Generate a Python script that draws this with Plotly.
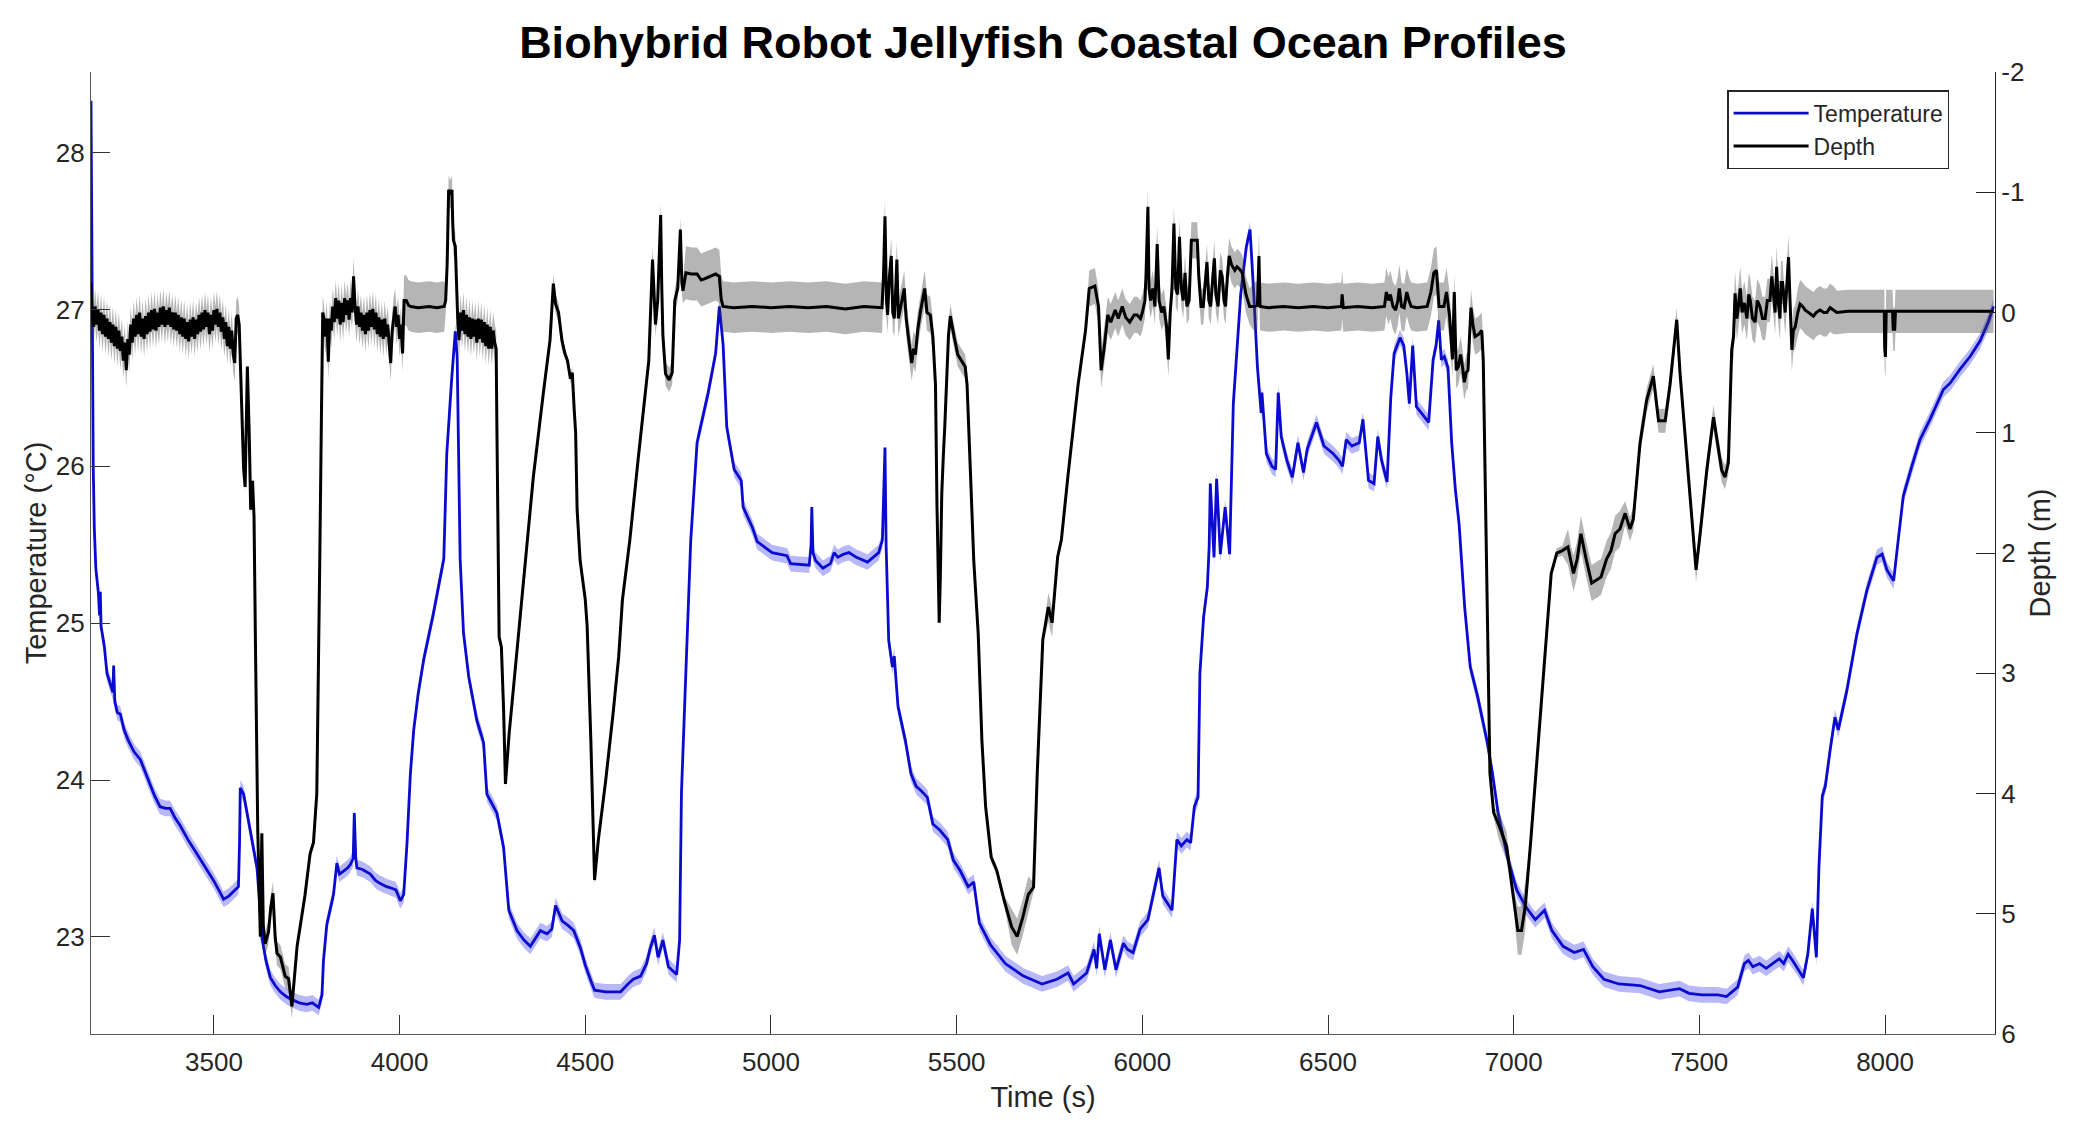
import plotly.graph_objects as go

# ---------------- data ----------------
temp_time = [3169, 3171, 3173, 3175, 3178, 3182, 3189, 3192, 3194, 3196, 3205, 3212, 3228, 3230, 3233, 3240,
             3248, 3258, 3270, 3285, 3302, 3320, 3340, 3355, 3370, 3382, 3395, 3409, 3430, 3454, 3475, 3499,
             3515, 3526, 3540, 3553, 3566, 3569, 3571, 3580, 3595, 3616, 3622, 3629, 3640, 3652, 3665, 3679,
             3695, 3710, 3730, 3750, 3765, 3782, 3791, 3795, 3804, 3815, 3822, 3831, 3838, 3849, 3860, 3867,
             3875, 3878, 3882, 3885, 3900, 3921, 3935, 3948, 3965, 3979, 3990, 4002, 4011, 4020, 4029, 4038,
             4050, 4065, 4090, 4119, 4127, 4140, 4150, 4155, 4163, 4172, 4186, 4208, 4226, 4235, 4250, 4262,
             4280, 4294, 4316, 4335, 4352, 4365, 4379, 4397, 4410, 4420, 4430, 4438, 4455, 4469, 4487, 4500,
             4515, 4525, 4555, 4595, 4615, 4629, 4649, 4665, 4674, 4686, 4696, 4709, 4724, 4746, 4754, 4759,
             4769, 4774, 4784, 4801, 4831, 4851, 4861, 4871, 4881, 4901, 4920, 4925, 4950, 4963, 4980, 5003,
             5043, 5053, 5103, 5108, 5110, 5113, 5120, 5140, 5160, 5170, 5180, 5195, 5210, 5230, 5260, 5290,
             5300, 5305, 5307, 5310, 5317, 5327, 5332, 5342, 5362, 5377, 5391, 5405, 5421, 5436, 5455, 5476,
             5491, 5510, 5531, 5546, 5561, 5591, 5631, 5680, 5730, 5770, 5800, 5815, 5850, 5870, 5877, 5884,
             5899, 5914, 5929, 5949, 5960, 5975, 5994, 6015, 6025, 6045, 6055, 6080, 6093, 6105, 6120, 6130,
             6140, 6150, 6155, 6165, 6175, 6180, 6183, 6193, 6200, 6210, 6223, 6235, 6245, 6265, 6280, 6290,
             6300, 6310, 6320, 6322, 6334, 6349, 6359, 6366, 6374, 6389, 6404, 6419, 6434, 6444, 6469, 6489,
             6514, 6529, 6539, 6549, 6564, 6584, 6594, 6609, 6624, 6634, 6644, 6659, 6669, 6678, 6694, 6704,
             6712, 6719, 6728, 6738, 6758, 6771, 6783, 6791, 6798, 6805, 6813, 6823, 6833, 6843, 6853, 6863,
             6868, 6883, 6903, 6928, 6943, 6958, 6983, 7008, 7033, 7058, 7083, 7103, 7133, 7163, 7188, 7213,
             7243, 7283, 7340, 7392, 7447, 7472, 7507, 7550, 7573, 7603, 7621, 7632, 7644, 7662, 7680, 7697,
             7715, 7727, 7739, 7751, 7768, 7780, 7792, 7804, 7815, 7822, 7831, 7839, 7852, 7865, 7874, 7897,
             7924, 7951, 7978, 7992, 8005, 8023, 8032, 8049, 8072, 8094, 8121, 8157, 8175, 8202, 8229, 8256,
             8278, 8292]
temp_val = [28.33, 27.30, 26.60, 26.00, 25.60, 25.35, 25.19, 25.05, 25.20, 24.98, 24.85, 24.68, 24.56, 24.73, 24.50, 24.43,
            24.42, 24.32, 24.25, 24.18, 24.13, 24.02, 23.90, 23.83, 23.82, 23.82, 23.76, 23.71, 23.62, 23.53, 23.45, 23.36,
            23.29, 23.24, 23.26, 23.29, 23.32, 23.60, 23.95, 23.91, 23.72, 23.44, 23.25, 23.00, 22.85, 22.74, 22.69, 22.65,
            22.62, 22.60, 22.58, 22.57, 22.58, 22.55, 22.63, 22.85, 23.08, 23.20, 23.27, 23.47, 23.40, 23.42, 23.44, 23.46,
            23.50, 23.79, 23.50, 23.44, 23.43, 23.40, 23.36, 23.34, 23.32, 23.31, 23.30, 23.23, 23.27, 23.60, 24.04, 24.32,
            24.55, 24.77, 25.05, 25.41, 26.08, 26.55, 26.86, 26.70, 25.41, 24.94, 24.66, 24.38, 24.24, 23.91, 23.84, 23.79,
            23.57, 23.17, 23.04, 22.98, 22.94, 22.99, 23.04, 23.02, 23.05, 23.20, 23.14, 23.10, 23.07, 23.04, 22.93, 22.82,
            22.72, 22.66, 22.65, 22.65, 22.70, 22.73, 22.75, 22.83, 22.92, 23.01, 22.87, 22.98, 22.81, 22.76, 22.98, 23.92,
            24.57, 24.89, 25.53, 26.15, 26.47, 26.72, 27.02, 26.78, 26.25, 25.98, 25.91, 25.74, 25.61, 25.52, 25.49, 25.45,
            25.43, 25.38, 25.37, 25.50, 25.74, 25.45, 25.40, 25.35, 25.38, 25.45, 25.42, 25.44, 25.45, 25.42, 25.39, 25.45,
            25.53, 26.00, 26.12, 25.50, 24.89, 24.72, 24.79, 24.47, 24.25, 24.04, 23.96, 23.93, 23.89, 23.72, 23.68, 23.62,
            23.49, 23.42, 23.32, 23.35, 23.09, 22.95, 22.83, 22.75, 22.70, 22.73, 22.77, 22.70, 22.77, 22.92, 22.80, 23.02,
            22.79, 22.98, 22.79, 22.96, 22.92, 22.90, 23.05, 23.11, 23.22, 23.44, 23.26, 23.17, 23.62, 23.58, 23.62, 23.60,
            23.83, 23.89, 24.68, 25.04, 25.23, 25.49, 25.89, 25.42, 25.92, 25.44, 25.74, 25.44, 26.40, 27.10, 27.40, 27.51,
            27.10, 26.63, 26.34, 26.47, 26.08, 26.00, 25.98, 26.47, 26.19, 26.04, 25.93, 26.15, 25.96, 26.11, 26.28, 26.13,
            26.08, 26.04, 26.00, 26.17, 26.13, 26.15, 26.30, 25.91, 25.89, 26.19, 26.04, 25.90, 26.44, 26.72, 26.82, 26.77,
            26.60, 26.40, 26.77, 26.38, 26.32, 26.28, 26.68, 26.77, 26.93, 26.68, 26.70, 26.63, 26.15, 25.85, 25.63, 25.30,
            25.10, 24.72, 24.53, 24.25, 24.04, 23.79, 23.51, 23.30, 23.19, 23.11, 23.17, 23.04, 22.94, 22.90, 22.92, 22.81,
            22.73, 22.70, 22.69, 22.65, 22.67, 22.64, 22.63, 22.63, 22.62, 22.68, 22.83, 22.85, 22.81, 22.83, 22.80, 22.83,
            22.86, 22.83, 22.89, 22.85, 22.79, 22.74, 22.89, 23.18, 22.87, 23.45, 23.90, 23.96, 24.19, 24.40, 24.32, 24.57,
            24.93, 25.21, 25.42, 25.44, 25.34, 25.27, 25.46, 25.81, 26.00, 26.17, 26.30, 26.49, 26.53, 26.62, 26.70, 26.80,
            26.92, 27.02]
temp_err = 0.05  # half-width of the temperature uncertainty band (deg C)

# depth: irregular samples read off the curve, plus three densely sampled
# surface-noise stretches (sampled every 4 s)
depth_a_time = [3168, 3170]
depth_a_val = [-0.25, 0.00]

surf1_start, surf1_step = 3172, 4
surf1_val = [0.00, 0.12, -0.05, 0.10, -0.02, 0.15, 0.00, 0.18, 0.02, 0.20, 0.05, 0.22, 0.08, 0.25, 0.10, 0.28,
             0.12, 0.30, 0.15, 0.32, 0.20, 0.40, 0.25, 0.48, 0.22, 0.35, 0.10, 0.25, 0.05, 0.20, 0.02, 0.18,
             0.00, 0.20, 0.05, 0.22, 0.03, 0.18, 0.00, 0.16, -0.02, 0.14, -0.03, 0.15, 0.00, 0.12, -0.04, 0.10,
             -0.05, 0.12, -0.02, 0.10, -0.04, 0.12, 0.00, 0.14, 0.00, 0.15, 0.02, 0.18, 0.04, 0.20, 0.05, 0.22,
             0.08, 0.24, 0.06, 0.20, 0.04, 0.22, 0.06, 0.18, 0.02, 0.16, 0.00, 0.14, -0.02, 0.12, 0.00, 0.18,
             0.02, 0.15, -0.02, 0.10, -0.03, 0.12, 0.00, 0.16, 0.04, 0.22, 0.08, 0.28, 0.12, 0.30, 0.15, 0.35,
             0.42, 0.05, 0.02]

depth_b_time = [3568, 3573, 3577, 3580, 3584, 3588, 3590, 3595, 3599, 3604, 3608, 3612, 3618, 3625, 3629,
                3633, 3638, 3647, 3653, 3659, 3665, 3670, 3679, 3692, 3701, 3710, 3724, 3745, 3759, 3768, 3777,
                3785, 3788, 3790, 3793]
depth_b_val = [0.10, 0.60, 0.95, 1.30, 1.45, 0.80, 0.45, 1.00, 1.64, 1.40, 1.70, 2.80, 4.30, 5.19, 4.33,
               5.10, 5.25, 5.15, 4.95, 4.83, 5.20, 5.33, 5.36, 5.52, 5.54, 5.77, 5.27, 4.85, 4.50, 4.41, 4.00,
               2.06, 1.00, 0.73, 0.00]

surf2_start, surf2_step = 3796, 4
surf2_val = [0.05, 0.20, 0.05, 0.41, 0.05, 0.15, -0.05, 0.08, -0.12, 0.05, -0.10, 0.10, -0.08, 0.08, -0.12, 0.02,
             -0.10, 0.06, -0.12, 0.00, -0.30, -0.05, 0.10, -0.05, 0.12, 0.00, 0.15, 0.02, 0.18, 0.00, 0.15, -0.02,
             0.12, -0.03, 0.14, 0.00, 0.18, 0.04, 0.20, 0.06, 0.22, 0.05, 0.20, 0.10, 0.30, 0.42, 0.15, 0.02,
             -0.05, 0.12, 0.02, 0.22, 0.10, 0.34]

depth_c_time = [4012, 4018, 4024, 4030, 4050, 4080, 4100, 4120, 4124, 4128, 4132, 4137, 4141, 4143, 4145,
                4150, 4154, 4157]
depth_c_val = [-0.10, -0.10, -0.06, -0.05, -0.04, -0.05, -0.04, -0.05, -0.10, -0.40, -1.02, -0.98, -1.02, -0.75, -0.60,
               -0.55, -0.05, 0.10]

surf3_start, surf3_step = 4160, 4
surf3_val = [0.23, 0.00, 0.15, -0.02, 0.18, 0.02, 0.20, 0.04, 0.22, 0.05, 0.20, 0.06, 0.25, 0.05, 0.22, 0.06,
             0.25, 0.08, 0.28, 0.10, 0.30, 0.12, 0.30, 0.15, 0.25, 0.30]

depth_d_time = [4262, 4264, 4268, 4274, 4280, 4285, 4295, 4307, 4322, 4339, 4360, 4387, 4405, 4414, 4420,
                4428, 4437, 4445, 4452, 4460, 4465, 4470, 4474, 4478, 4486, 4500, 4505, 4515, 4525, 4535, 4555,
                4575, 4590, 4600, 4620, 4642, 4671, 4681, 4686, 4689, 4695, 4703, 4706, 4709, 4716, 4726, 4734,
                4741, 4749, 4756, 4760, 4763, 4771, 4785, 4801, 4812, 4821, 4835, 4851, 4861, 4866, 4871, 4900,
                4950, 5000, 5050, 5100, 5150, 5200, 5250, 5299, 5303, 5307, 5311, 5314, 5319, 5324, 5328, 5332,
                5336, 5339, 5343, 5350, 5359, 5364, 5369, 5374, 5379, 5384, 5389, 5395, 5402, 5408, 5414, 5420,
                5429, 5436, 5440, 5443, 5447, 5450, 5453, 5456, 5460, 5464, 5468, 5478, 5483, 5493, 5503, 5513,
                5523, 5528, 5533, 5538, 5546, 5558, 5568, 5578, 5593, 5608, 5628, 5648, 5663, 5678, 5693, 5707,
                5717, 5732, 5747, 5757, 5772, 5782, 5800, 5827, 5847, 5857, 5872, 5882, 5889, 5897, 5907, 5915,
                5927, 5935, 5946, 5955, 5966, 5978, 5986, 5995, 6000, 6007, 6010, 6015, 6018, 6022, 6028, 6034,
                6040, 6045, 6052, 6058, 6065, 6070, 6075, 6080, 6085, 6090, 6095, 6100, 6105, 6110, 6115, 6120,
                6126, 6132, 6140, 6148, 6152, 6158, 6164, 6170, 6174, 6179, 6184, 6190, 6194, 6198, 6204, 6210,
                6215, 6220, 6224, 6229, 6234, 6240, 6249, 6255, 6262, 6269, 6279, 6289, 6300, 6310, 6312, 6314,
                6317, 6340, 6380, 6420, 6460, 6500, 6536, 6538, 6541, 6580, 6620, 6652, 6657, 6663, 6668, 6675,
                6682, 6688, 6692, 6698, 6705, 6712, 6718, 6724, 6740, 6767, 6777, 6785, 6792, 6796, 6799, 6812,
                6819, 6827, 6835, 6840, 6845, 6851, 6857, 6862, 6867, 6872, 6877, 6881, 6885, 6890, 6896, 6906,
                6914, 6918, 6921, 6926, 6931, 6936, 6946, 6961, 6981, 6996, 7011, 7021, 7031, 7046, 7066, 7086,
                7101, 7116, 7131, 7146, 7155, 7161, 7171, 7181, 7195, 7210, 7225, 7235, 7250, 7262, 7273, 7286,
                7300, 7313, 7322, 7340, 7358, 7376, 7390, 7408, 7421, 7439, 7448, 7466, 7479, 7491, 7502, 7520,
                7538, 7547, 7560, 7569, 7578, 7587, 7592, 7596, 7601, 7605, 7610, 7615, 7621, 7628, 7633, 7637,
                7643, 7650, 7656, 7663, 7670, 7677, 7683, 7690, 7695, 7699, 7704, 7708, 7712, 7717, 7720, 7724,
                7728, 7731, 7735, 7740, 7744, 7749, 7753, 7758, 7765, 7771, 7778, 7785, 7794, 7807, 7815, 7825,
                7835, 7843, 7852, 7861, 7870, 7900, 7950, 7998, 7999, 8001, 8003, 8020, 8022, 8026, 8028, 8100,
                8200, 8292]
depth_d_val = [0.95, 1.50, 2.70, 2.78, 3.30, 3.92, 3.50, 3.11, 2.60, 2.06, 1.37, 0.67, 0.23, -0.24, -0.07,
               0.00, 0.23, 0.34, 0.40, 0.55, 0.50, 0.80, 1.00, 1.64, 2.06, 2.39, 2.61, 3.56, 4.72, 4.39, 3.89,
               3.33, 2.86, 2.39, 1.89, 1.23, 0.40, -0.44, -0.15, 0.10, -0.10, -0.81, -0.20, 0.19, 0.51, 0.56, 0.50,
               -0.10, -0.20, -0.69, -0.25, -0.18, -0.33, -0.32, -0.32, -0.27, -0.28, -0.30, -0.32, -0.30, -0.11, -0.05, -0.04,
               -0.05, -0.04, -0.05, -0.04, -0.05, -0.03, -0.05, -0.04, -0.30, -0.80, -0.10, 0.02, -0.30, -0.47, 0.00, 0.05,
               -0.20, -0.44, 0.05, -0.05, -0.20, 0.05, 0.20, 0.30, 0.42, 0.30, 0.35, 0.15, 0.00, -0.10, -0.20, 0.00,
               0.02, 0.20, 0.50, 0.60, 1.60, 2.30, 2.58, 2.20, 1.50, 1.20, 0.95, 0.19, 0.03, 0.20, 0.35, 0.40,
               0.45, 0.60, 0.95, 1.40, 2.06, 2.67, 3.56, 4.11, 4.53, 4.64, 4.89, 5.11, 5.19, 5.03, 4.84, 4.78,
               3.83, 2.72, 2.45, 2.58, 2.03, 1.89, 1.35, 0.60, 0.15, -0.20, -0.22, -0.05, 0.48, 0.30, 0.02, 0.08,
               -0.02, 0.05, -0.05, 0.04, 0.08, 0.02, 0.02, 0.05, 0.00, -0.10, -0.32, -0.88, -0.20, -0.10, -0.20, -0.05,
               -0.57, -0.10, 0.00, -0.05, 0.11, 0.39, 0.00, -0.20, -0.74, -0.20, -0.15, -0.63, -0.20, -0.10, -0.33, -0.05,
               -0.10, -0.60, -0.60, -0.60, -0.30, -0.05, -0.05, -0.25, -0.42, -0.10, -0.05, -0.30, -0.45, -0.15, -0.05, -0.35,
               -0.30, -0.10, -0.05, -0.30, -0.47, -0.40, -0.35, -0.38, -0.36, -0.33, -0.15, -0.05, -0.05, -0.06, -0.30, -0.47,
               -0.05, -0.04, -0.05, -0.04, -0.05, -0.04, -0.05, -0.15, -0.04, -0.05, -0.04, -0.05, -0.17, -0.10, -0.15, -0.05,
               -0.02, -0.10, -0.20, -0.05, -0.04, -0.17, -0.10, -0.05, -0.04, -0.05, -0.17, -0.33, -0.35, -0.15, -0.05, -0.05,
               -0.17, 0.02, 0.39, -0.17, 0.48, 0.45, 0.35, 0.45, 0.58, 0.50, 0.48, 0.20, -0.04, 0.10, 0.20, 0.18,
               0.15, 0.40, 0.95, 1.89, 3.00, 3.83, 4.16, 4.27, 4.44, 4.78, 5.14, 5.14, 4.94, 4.39, 3.56, 2.72,
               2.17, 2.00, 1.98, 1.95, 2.10, 2.17, 2.05, 1.84, 2.05, 2.25, 2.22, 2.20, 2.05, 1.98, 1.84, 1.80,
               1.67, 1.80, 1.72, 1.09, 0.73, 0.53, 0.90, 0.90, 0.60, 0.06, 0.51, 1.20, 1.73, 2.14, 1.84, 1.31,
               0.87, 1.06, 1.31, 1.37, 1.25, 0.31, 0.20, -0.16, 0.05, -0.05, -0.20, 0.00, -0.08, 0.05, -0.15, -0.10,
               0.05, 0.08, -0.10, -0.05, 0.05, 0.05, -0.10, -0.10, -0.30, -0.17, 0.00, -0.38, -0.10, 0.05, -0.25, -0.25,
               -0.05, 0.00, -0.20, -0.46, -0.10, 0.31, 0.15, 0.12, 0.00, -0.07, -0.05, -0.02, 0.00, 0.03, 0.00, -0.02,
               0.00, 0.00, -0.04, -0.02, 0.00, -0.01, -0.01, -0.01, 0.30, 0.37, -0.01, -0.01, 0.14, 0.14, -0.01, -0.01,
               -0.01, -0.01]

# depth uncertainty band half-widths, by time interval (start, end, half-width in m)
depth_err_segments = [(3169, 3572, 0.15), (3620, 3720, 0.10), (3790, 4012, 0.15), (4012, 4123, 0.21),
                      (4123, 4160, 0.12), (4160, 4262, 0.15), (4400, 4440, 0.08), (4680, 4770, 0.10),
                      (4771, 4866, 0.22), (4866, 5300, 0.21), (5300, 5440, 0.15), (5470, 5535, 0.10),
                      (5640, 5700, 0.15), (5740, 5770, 0.12), (5850, 6300, 0.15), (6300, 6830, 0.20),
                      (6830, 6920, 0.15), (6950, 6990, 0.12), (7005, 7035, 0.20), (7140, 7290, 0.15),
                      (7290, 7590, 0.10), (7590, 7760, 0.18), (7760, 7870, 0.20), (7870, 8296, 0.18)]
depth_err_default = 0.04

x_ticks = [3500, 4000, 4500, 5000, 5500, 6000, 6500, 7000, 7500, 8000]
temp_ticks = [23, 24, 25, 26, 27, 28]
depth_ticks = [-2, -1, 0, 1, 2, 3, 4, 5, 6]


def sampled(start, step, vals):
    return [start + step * i for i in range(len(vals))]


depth_time = (depth_a_time + sampled(surf1_start, surf1_step, surf1_val) + depth_b_time
              + sampled(surf2_start, surf2_step, surf2_val) + depth_c_time
              + sampled(surf3_start, surf3_step, surf3_val) + depth_d_time)
depth_val = depth_a_val + surf1_val + depth_b_val + surf2_val + depth_c_val + surf3_val + depth_d_val


def depth_err(t):
    e = depth_err_default
    for a, b, w in depth_err_segments:
        if a <= t <= b:
            e = w
    return e


d_err = [depth_err(t) for t in depth_time]

FONT = "Liberation Sans, Arial, sans-serif"
TXT = "#262626"

fig = go.Figure()

# temperature band + line (left axis)
fig.add_trace(go.Scatter(
    x=temp_time + temp_time[::-1],
    y=[v + temp_err for v in temp_val] + [v - temp_err for v in temp_val][::-1],
    fill="toself", fillcolor="rgba(40,40,235,0.33)", line=dict(width=0),
    mode="lines", hoverinfo="skip", showlegend=False, yaxis="y"))
fig.add_trace(go.Scatter(
    x=temp_time, y=temp_val, mode="lines", name="Temperature",
    line=dict(color="#0b0bd0", width=2.8), yaxis="y"))

# depth band + line (right axis)
fig.add_trace(go.Scatter(
    x=depth_time + depth_time[::-1],
    y=[v + e for v, e in zip(depth_val, d_err)] + [v - e for v, e in zip(depth_val, d_err)][::-1],
    fill="toself", fillcolor="rgba(60,60,60,0.38)", line=dict(width=0),
    mode="lines", hoverinfo="skip", showlegend=False, yaxis="y2"))
fig.add_trace(go.Scatter(
    x=depth_time, y=depth_val, mode="lines", name="Depth",
    line=dict(color="#000000", width=3.0), yaxis="y2"))

fig.update_layout(
    width=2085, height=1130,
    margin=dict(l=91, r=90, t=72, b=96),
    paper_bgcolor="white", plot_bgcolor="white",
    font=dict(family=FONT, size=26, color=TXT),
    title=dict(text="<b>Biohybrid Robot Jellyfish Coastal Ocean Profiles</b>",
               x=0.5, xref="paper", xanchor="center",
               y=1 - 42 / 1130, yref="container", yanchor="middle",
               font=dict(family=FONT, size=45, color="#000000")),
    xaxis=dict(range=[3169, 8296], tickvals=x_ticks, ticks="inside", ticklen=19, tickwidth=1.3,
               tickcolor="#333333", showline=True, linecolor="#555555", linewidth=1.3,
               showgrid=False, zeroline=False, mirror=False, ticklabelstandoff=5,
               tickfont=dict(size=26, color=TXT),
               title=dict(text="Time (s)", font=dict(size=29, color=TXT), standoff=10)),
    yaxis=dict(range=[22.381, 28.514], tickvals=temp_ticks, ticks="inside", ticklen=19, tickwidth=1.3,
               tickcolor="#333333", showline=True, linecolor="#555555", linewidth=1.3,
               showgrid=False, zeroline=False,
               tickfont=dict(size=26, color=TXT),
               title=dict(text="Temperature (°C)", font=dict(size=29, color=TXT), standoff=0)),
    yaxis2=dict(range=[6, -2], tickvals=depth_ticks, ticktext=[str(v) for v in depth_ticks],
                overlaying="y", side="right",
                ticks="inside", ticklen=19, tickwidth=1.3, tickcolor="#222222",
                showline=True, linecolor="#222222", linewidth=1.3,
                showgrid=False, zeroline=False,
                tickfont=dict(size=26, color=TXT),
                title=dict(text="Depth (m)", font=dict(size=29, color=TXT), standoff=6)),
    legend=dict(x=0.976, y=0.981, xanchor="right", yanchor="top",
                bgcolor="white", bordercolor="#262626", borderwidth=1.3,
                font=dict(size=23, color=TXT), itemwidth=75, tracegroupgap=0),
    showlegend=True,
)

fig.write_html("out.html")
